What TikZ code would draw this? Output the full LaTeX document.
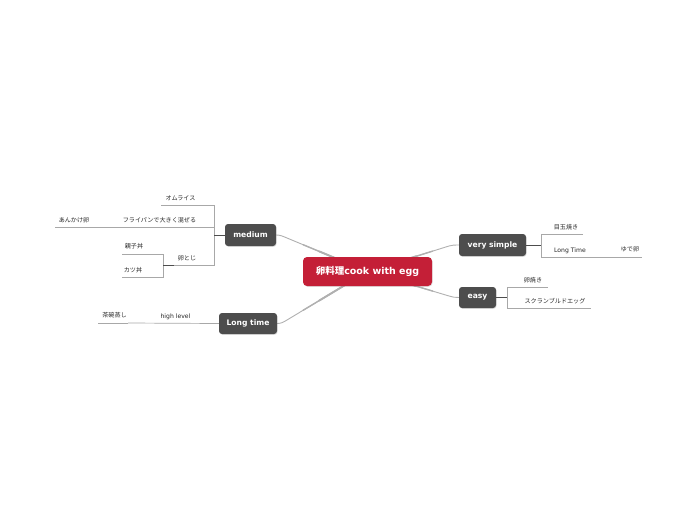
\documentclass[tikz,border=0pt]{standalone}
\usepackage{fontspec}
\setmainfont{DejaVu Sans}
\newfontfamily\jp{Noto Sans CJK JP}
\newfontfamily\jpb{Noto Sans CJK JP Bold}
\usetikzlibrary{backgrounds,shadows,calc}
\definecolor{mainred}{HTML}{C41F37}
\definecolor{topicgray}{HTML}{4D4D4D}
\definecolor{leafgray}{HTML}{A8A8A8}
\definecolor{branchgray}{HTML}{B0B0B0}
\tikzset{
  topic/.style={rounded corners=3pt, fill=topicgray, text=white, inner sep=0pt,
    font=\fontsize{7.6}{8}\selectfont\bfseries, drop shadow={shadow xshift=0.6pt, shadow yshift=-0.8pt, opacity=0.25}},
  central/.style={rounded corners=4pt, fill=mainred, text=white, inner sep=0pt,
    font=\fontsize{9.5}{10}\selectfont\bfseries, drop shadow={shadow xshift=0.6pt, shadow yshift=-0.8pt, opacity=0.25}},
  leaf/.style={inner sep=0pt, text=black!85, font=\jp\fontsize{6.1}{7}\selectfont},
  leafl/.style={inner sep=0pt, text=black!85, font=\fontsize{6.1}{7}\selectfont},
  leafline/.style={draw=leafgray, line width=0.7pt},
  darkline/.style={draw=topicgray, line width=0.8pt},
  branch/.style={draw=branchgray, line width=0.9pt, line cap=round},
  branchm/.style={draw=branchgray, line width=1.4pt, line cap=round},
  brancht/.style={draw=branchgray, line width=1.9pt, line cap=round},
}
\begin{document}
\begin{tikzpicture}[x=1pt,y=-1pt]
\useasboundingbox (0,0) rectangle (697,520);
% main nodes
\node[central, minimum width=129pt, minimum height=29pt] (c) at (367.5,271.5) {{\jpb 卵料理}cook with egg};
\node[topic, minimum width=67pt, minimum height=22pt] (vs) at (492.5,245) {very simple};
\node[topic, minimum width=37pt, minimum height=21pt] (ea) at (477.5,297.5) {easy};
\node[topic, minimum width=51pt, minimum height=22pt] (me) at (250.5,235) {medium};
\node[topic, minimum width=58pt, minimum height=21pt] (lt) at (248,323.5) {Long time};
% branches
\coordinate (wvs) at (449,246);
\coordinate (wea) at (449,296);
\coordinate (wme) at (287,238);
\coordinate (wlt) at (287,320);
\begin{pgfonlayer}{background}
\draw[branch] (c.center) -- (wvs) to[out=17,in=180] (vs.west);
\draw[branch] (c.center) -- (wea) to[out=-17,in=180] (ea.west);
\draw[branch] (c.center) -- (wme) to[out=157.6,in=0] (me.east);
\draw[branch] (c.center) -- (wlt) to[out=-148.5,in=0] (lt.east);
\foreach \w in {wvs,wea,wme,wlt}{
  \draw[branchm] (c.center) -- ($(c.center)!0.8!(\w)$);
  \draw[brancht] (c.center) -- ($(c.center)!0.6!(\w)$);
}
\end{pgfonlayer}
% very simple
\coordinate (vsb) at (541,245);
\coordinate (vs1a) at (541,234); \coordinate (vs1b) at (583,234);
\coordinate (vs2a) at (541,257); \coordinate (vs2b) at (601,257); \coordinate (vs2c) at (642,257);
\draw[leafline] (vs1b) -- (vs1a) -- (vs2a) -- (vs2b);
\draw[leafline] (vs2b) -- (vs2c);
\draw[darkline] (vs.east) -- (vsb);
\node[leaf] (vs1) at (566,227) {目玉焼き};
\node[leafl] (vs2) at (570,250.5) {Long Time};
\node[leaf] (vs3) at (630,249) {ゆで卵};
% easy
\coordinate (eab) at (507,297.5);
\coordinate (ea1a) at (507,287); \coordinate (ea1b) at (548,287);
\coordinate (ea2a) at (507,308); \coordinate (ea2b) at (591,308);
\draw[leafline] (ea1b) -- (ea1a) -- (ea2a) -- (ea2b);
\draw[darkline] (ea.east) -- (eab);
\node[leaf] (ea1) at (533,280) {卵焼き};
\node[leaf] (ea2) at (555,301.5) {スクランブルドエッグ};
% medium
\coordinate (meb) at (214,235);
\coordinate (me1a) at (214,205); \coordinate (me1b) at (161,205);
\coordinate (me2a) at (214,227); \coordinate (me2b) at (114,227); \coordinate (me2c) at (55,227);
\coordinate (me3a) at (214,265); \coordinate (me3b) at (163,265);
\draw[leafline] (me1b) -- (me1a) -- (me3a) -- (me3b);
\draw[leafline] (me2a) -- (me2b);
\draw[leafline] (me2b) -- (me2c);
\draw[darkline] (me.west) -- (meb);
\node[leaf] (me1) at (180.5,198) {オムライス};
\node[leaf] (me2) at (159.5,220) {フライパンで大きく混ぜる};
\node[leaf] (me2x) at (74,220) {あんかけ卵};
\node[leaf] (me3) at (187,258) {卵とじ};
\coordinate (m3b) at (174,265);
\coordinate (m31a) at (163,254); \coordinate (m31b) at (122,254);
\coordinate (m32a) at (163,277); \coordinate (m32b) at (122,277);
\draw[leafline] (m31b) -- (m31a) -- (m32a) -- (m32b);
\draw[darkline] (m3b) -- (me3b);
\node[leaf] (m31) at (134,246.5) {親子丼};
\node[leaf] (m32) at (133,270) {カツ丼};
% long time
\coordinate (lt1a) at (128,323); \coordinate (lt1b) at (98,323);
\draw[leafline] (lt.west) -- (lt1a);
\draw[leafline] (lt1a) -- (lt1b);
\node[leafl] (lt1) at (175.5,316.5) {high level};
\node[leaf] (lt2) at (114.5,315.5) {茶碗蒸し};
\end{tikzpicture}
\end{document}
